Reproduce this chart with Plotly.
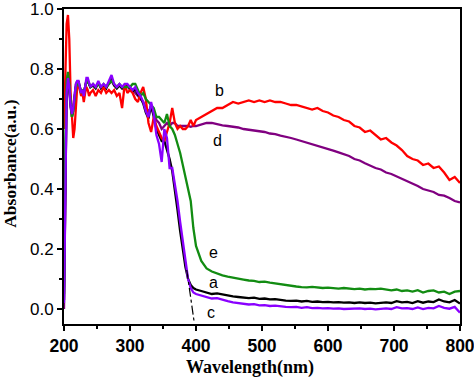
import plotly.graph_objects as go

# wavelength sampling (nm)
wl = list(range(200, 241, 2)) + list(range(244, 401, 4)) + list(range(408, 801, 8))

# curve a (black)
abs_a = [0.03, 0.50, 0.74, 0.78, 0.74, 0.68, 0.64, 0.66, 0.71, 0.74, 0.75, 0.76, 0.74, 0.72, 0.73, 0.71, 0.74, 0.76, 0.76, 0.75, 0.74,
         0.745, 0.735, 0.755, 0.735, 0.745, 0.735, 0.755, 0.77, 0.745, 0.735, 0.745, 0.735, 0.745, 0.745, 0.735, 0.725, 0.735, 0.715, 0.705, 0.685,
         0.655, 0.635, 0.68, 0.645, 0.60, 0.58, 0.56, 0.56, 0.53, 0.50, 0.46, 0.40, 0.33, 0.26, 0.19, 0.14, 0.10, 0.08, 0.07, 0.065,
         0.06, 0.055, 0.05, 0.052, 0.048, 0.045, 0.042, 0.04, 0.038, 0.036, 0.038, 0.034, 0.035, 0.032, 0.033, 0.03, 0.028, 0.027, 0.028, 0.025,
         0.027, 0.024, 0.025, 0.023, 0.024, 0.022, 0.023, 0.021, 0.022, 0.02, 0.022, 0.02, 0.021, 0.019, 0.02, 0.022, 0.02, 0.026, 0.022, 0.024,
         0.02, 0.026, 0.021, 0.025, 0.023, 0.032, 0.025, 0.022, 0.03, 0.018]

# curve b (red)
abs_b = [0.60, 0.82, 0.95, 0.98, 0.90, 0.72, 0.62, 0.57, 0.60, 0.68, 0.74, 0.75, 0.73, 0.71, 0.72, 0.69, 0.72, 0.74, 0.73, 0.71, 0.72,
         0.73, 0.71, 0.73, 0.72, 0.74, 0.72, 0.73, 0.72, 0.73, 0.71, 0.72, 0.67, 0.75, 0.72, 0.73, 0.72, 0.70, 0.69, 0.72, 0.74,
         0.70, 0.62, 0.59, 0.64, 0.61, 0.59, 0.57, 0.56, 0.59, 0.62, 0.67, 0.62, 0.60, 0.61, 0.60, 0.60, 0.61, 0.63, 0.61, 0.63,
         0.64, 0.65, 0.66, 0.67, 0.67, 0.68, 0.69, 0.685, 0.69, 0.695, 0.69, 0.695, 0.69, 0.695, 0.69, 0.69, 0.685, 0.68, 0.68, 0.675,
         0.67, 0.665, 0.67, 0.66, 0.655, 0.645, 0.64, 0.63, 0.625, 0.61, 0.605, 0.59, 0.595, 0.58, 0.565, 0.57, 0.555, 0.545, 0.53, 0.51,
         0.50, 0.495, 0.48, 0.485, 0.47, 0.475, 0.455, 0.43, 0.44, 0.42]

# curve c (violet)
abs_c = [0.02, 0.45, 0.72, 0.77, 0.74, 0.68, 0.65, 0.67, 0.72, 0.75, 0.76, 0.76, 0.74, 0.72, 0.73, 0.71, 0.74, 0.77, 0.77, 0.75, 0.74,
         0.75, 0.74, 0.76, 0.74, 0.75, 0.74, 0.76, 0.78, 0.75, 0.74, 0.75, 0.74, 0.75, 0.75, 0.74, 0.73, 0.74, 0.72, 0.71, 0.69,
         0.66, 0.64, 0.69, 0.65, 0.58, 0.55, 0.49, 0.60, 0.57, 0.47, 0.47, 0.42, 0.36, 0.29, 0.22, 0.15, 0.10, 0.07, 0.055, 0.05,
         0.045, 0.04, 0.035, 0.036, 0.03, 0.026, 0.022, 0.02, 0.017, 0.015, 0.016, 0.012, 0.013, 0.01, 0.011, 0.008, 0.007, 0.006, 0.007, 0.004,
         0.006, 0.003, 0.004, 0.002, 0.003, 0.001, 0.002, 0.0, 0.001, 0.0, 0.002, 0.0, 0.001, -0.001, 0.0, 0.002, 0.0, 0.006, 0.002, 0.003,
         0.0, 0.005, 0.0, 0.004, 0.002, 0.01, 0.004, 0.001, 0.007, -0.012]

# curve d (purple)
abs_d = [0.0, 0.50, 0.73, 0.76, 0.73, 0.67, 0.65, 0.67, 0.72, 0.75, 0.76, 0.75, 0.74, 0.72, 0.73, 0.72, 0.74, 0.76, 0.76, 0.75, 0.74,
         0.745, 0.74, 0.75, 0.74, 0.745, 0.74, 0.75, 0.76, 0.745, 0.74, 0.745, 0.74, 0.745, 0.745, 0.73, 0.73, 0.72, 0.71, 0.70, 0.69,
         0.67, 0.66, 0.67, 0.65, 0.63, 0.62, 0.60, 0.61, 0.62, 0.61, 0.62, 0.62, 0.61, 0.61, 0.61, 0.61, 0.61, 0.607, 0.61, 0.61,
         0.615, 0.62, 0.62, 0.615, 0.612, 0.61, 0.608, 0.605, 0.60, 0.598, 0.595, 0.593, 0.59, 0.585, 0.583, 0.578, 0.575, 0.57, 0.565, 0.56,
         0.555, 0.55, 0.545, 0.54, 0.535, 0.528, 0.522, 0.515, 0.51, 0.50, 0.495, 0.486, 0.478, 0.47, 0.465, 0.455, 0.45, 0.442, 0.435, 0.425,
         0.418, 0.41, 0.40, 0.395, 0.39, 0.38, 0.378, 0.37, 0.36, 0.355]

# curve e (green)
abs_e = [0.05, 0.55, 0.76, 0.79, 0.75, 0.68, 0.64, 0.66, 0.71, 0.74, 0.75, 0.75, 0.74, 0.72, 0.73, 0.72, 0.74, 0.76, 0.76, 0.75, 0.74,
         0.75, 0.74, 0.75, 0.74, 0.75, 0.74, 0.75, 0.76, 0.75, 0.74, 0.75, 0.74, 0.74, 0.74, 0.74, 0.75, 0.75, 0.73, 0.71, 0.72,
         0.70, 0.69, 0.68, 0.67, 0.64, 0.64, 0.63, 0.62, 0.65, 0.61, 0.60, 0.58, 0.55, 0.52, 0.48, 0.44, 0.40, 0.36, 0.27, 0.21,
         0.16, 0.135, 0.125, 0.118, 0.112, 0.108, 0.104, 0.10, 0.098, 0.095, 0.094, 0.09, 0.091, 0.088, 0.085, 0.082, 0.08, 0.076, 0.075, 0.073,
         0.072, 0.074, 0.072, 0.07, 0.071, 0.069, 0.068, 0.07, 0.068, 0.066, 0.068, 0.065, 0.067, 0.066, 0.068, 0.064, 0.062, 0.065, 0.06, 0.062,
         0.058, 0.063, 0.055, 0.06, 0.062, 0.055, 0.058, 0.05, 0.058, 0.06]

# band-edge tangent (dash-dot)
tangent_x = [386, 397]
tangent_y = [0.13, -0.04]

# curve labels
label_text = ["b", "d", "e", "a", "c"]
label_x = [436, 433, 427, 426, 423]
label_y = [0.73, 0.563, 0.187, 0.087, -0.013]

x_ticks = [200, 300, 400, 500, 600, 700, 800]
y_ticks = [0.0, 0.2, 0.4, 0.6, 0.8, 1.0]

fig = go.Figure()
series = [
    (abs_d, "#800080"),
    (abs_a, "#000000"),
    (abs_b, "#FF0000"),
    (abs_e, "#128C12"),
    (abs_c, "#8A00FF"),
]
for ys, col in series:
    fig.add_trace(go.Scatter(x=wl, y=ys, mode="lines",
                             line=dict(color=col, width=2.3), showlegend=False))

fig.add_trace(go.Scatter(x=tangent_x, y=tangent_y, mode="lines",
                         line=dict(color="black", width=1.2, dash="dashdot"),
                         showlegend=False))

for t, x, y in zip(label_text, label_x, label_y):
    fig.add_annotation(x=x, y=y, text=t, showarrow=False,
                       font=dict(family="Liberation Sans, Arial", size=16, color="black"))

fig.add_annotation(xref="paper", yref="paper", x=0.47, y=-0.137, xanchor="center", yanchor="middle",
                   text="Wavelength(nm)", showarrow=False,
                   font=dict(family="Liberation Serif, Times New Roman", size=18, color="black", weight="bold"))
fig.add_annotation(xref="paper", yref="paper", x=-0.137, y=0.511, xanchor="center", yanchor="middle",
                   text="Absorbance(a.u.)", textangle=-90, showarrow=False,
                   font=dict(family="Liberation Serif, Times New Roman", size=17.5, color="black", weight="bold"))

fig.update_layout(
    width=474, height=380,
    margin=dict(l=64, r=14, t=9, b=56),
    paper_bgcolor="white", plot_bgcolor="white",
    xaxis=dict(range=[200, 800], tickvals=x_ticks, automargin=False, ticklabeloverflow="allow",
               ticks="outside", ticklen=5, tickwidth=1.5, tickcolor="black",
               minor=dict(dtick=50, ticks="outside", ticklen=3, tickwidth=1.5, tickcolor="black"),
               showline=True, linecolor="black", linewidth=2, mirror=True,
               showgrid=False, zeroline=False,
               tickfont=dict(family="Liberation Sans, Arial", size=17.5, color="black", weight="bold")),
    yaxis=dict(range=[-0.05, 1.0], tickvals=y_ticks, tickformat=".1f", automargin=False, ticklabeloverflow="allow",
               ticks="outside", ticklen=5, tickwidth=1.5, tickcolor="black",
               minor=dict(dtick=0.1, tick0=0, ticks="outside", ticklen=3, tickwidth=1.5, tickcolor="black"),
               showline=True, linecolor="black", linewidth=2, mirror=True,
               showgrid=False, zeroline=False,
               tickfont=dict(family="Liberation Sans, Arial", size=17, color="black")),
)

fig.write_html("out.html", config={"displayModeBar": False},
               post_script="document.body.style.margin='0';document.body.style.overflow='hidden';")
